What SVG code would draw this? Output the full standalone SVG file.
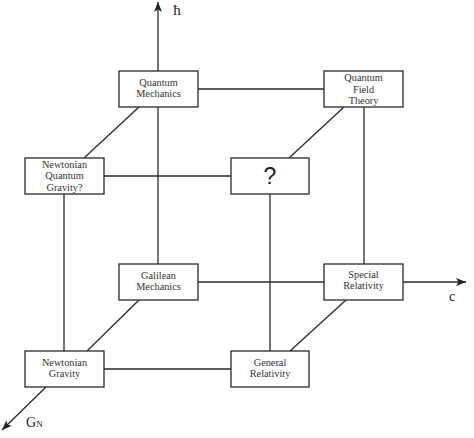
<svg xmlns="http://www.w3.org/2000/svg" width="474" height="438" viewBox="0 0 474 438">
<defs>
<marker id="arr" viewBox="0 0 10 8" refX="10" refY="4" markerWidth="10" markerHeight="8" markerUnits="userSpaceOnUse" orient="auto">
<path d="M0,0 L10,4 L0,8 L2.5,4 Z" fill="#222"/>
</marker>
</defs>
<style>
.ln{stroke:#2a2a2a;stroke-width:1.3;fill:none}
.bx{fill:#fff;stroke:#2a2a2a;stroke-width:1.3}
.t{font-family:"Liberation Serif","DejaVu Serif",serif;font-size:10.3px;fill:#333;text-anchor:middle}
.ax{font-family:"Liberation Serif","DejaVu Serif",serif;fill:#222}
</style>
<rect width="474" height="438" fill="#fff"/>
<g id="connectors">
<line class="ln" x1="158" y1="71" x2="158" y2="2" marker-end="url(#arr)"/>
<line class="ln" x1="403" y1="282" x2="466" y2="282" marker-end="url(#arr)"/>
<line class="ln" x1="46" y1="387" x2="2" y2="430" marker-end="url(#arr)"/>
<line class="ln" x1="158" y1="107" x2="158" y2="264"/>
<line class="ln" x1="198" y1="89" x2="324" y2="89"/>
<line class="ln" x1="364" y1="107" x2="364" y2="264"/>
<line class="ln" x1="198" y1="282" x2="324" y2="282"/>
<line class="ln" x1="104" y1="176" x2="231" y2="176"/>
<line class="ln" x1="64" y1="194" x2="64" y2="351"/>
<line class="ln" x1="270" y1="194" x2="270" y2="351"/>
<line class="ln" x1="104" y1="369" x2="231" y2="369"/>
<line class="ln" x1="84" y1="158" x2="139" y2="107"/>
<line class="ln" x1="289" y1="158" x2="344" y2="107"/>
<line class="ln" x1="87" y1="351" x2="139" y2="300"/>
<line class="ln" x1="290" y1="351" x2="346" y2="300"/>
</g>
<g id="axis-labels">
<text class="ax" x="177" y="15" font-size="15" text-anchor="middle">ħ</text>
<text class="ax" x="452" y="301" font-size="14" text-anchor="middle">c</text>
<text class="ax" x="26" y="427" font-size="14">G<tspan font-size="9">N</tspan></text>
</g>
<g id="quantum-mechanics">
<rect class="bx" x="119" y="71" width="79" height="36"/>
<text class="t" x="158.5" y="85.5">Quantum</text>
<text class="t" x="158.5" y="97">Mechanics</text>
</g>
<g id="quantum-field-theory">
<rect class="bx" x="324" y="71" width="79" height="36"/>
<text class="t" x="363.5" y="80.8">Quantum</text>
<text class="t" x="363.5" y="92.5">Field</text>
<text class="t" x="363.5" y="104.2">Theory</text>
</g>
<g id="newtonian-quantum-gravity">
<rect class="bx" x="25" y="158" width="79" height="36"/>
<text class="t" x="64.5" y="167.8">Newtonian</text>
<text class="t" x="64.5" y="179.2">Quantum</text>
<text class="t" x="64.5" y="190.5">Gravity?</text>
</g>
<g id="unknown">
<rect class="bx" x="231" y="158" width="78" height="36"/>
<text x="270" y="184" font-family="Liberation Sans, Arial, sans-serif" font-size="23" fill="#222" text-anchor="middle">?</text>
</g>
<g id="galilean-mechanics">
<rect class="bx" x="119" y="264" width="79" height="36"/>
<text class="t" x="158.5" y="279.2">Galilean</text>
<text class="t" x="158.5" y="290.2">Mechanics</text>
</g>
<g id="special-relativity">
<rect class="bx" x="324" y="264" width="79" height="36"/>
<text class="t" x="363.5" y="278.2">Special</text>
<text class="t" x="363.5" y="288.8">Relativity</text>
</g>
<g id="newtonian-gravity">
<rect class="bx" x="25" y="351" width="79" height="36"/>
<text class="t" x="64.5" y="365.8">Newtonian</text>
<text class="t" x="64.5" y="376.5">Gravity</text>
</g>
<g id="general-relativity">
<rect class="bx" x="231" y="351" width="78" height="36"/>
<text class="t" x="270" y="365.8">General</text>
<text class="t" x="270" y="376.8">Relativity</text>
</g>
</svg>
